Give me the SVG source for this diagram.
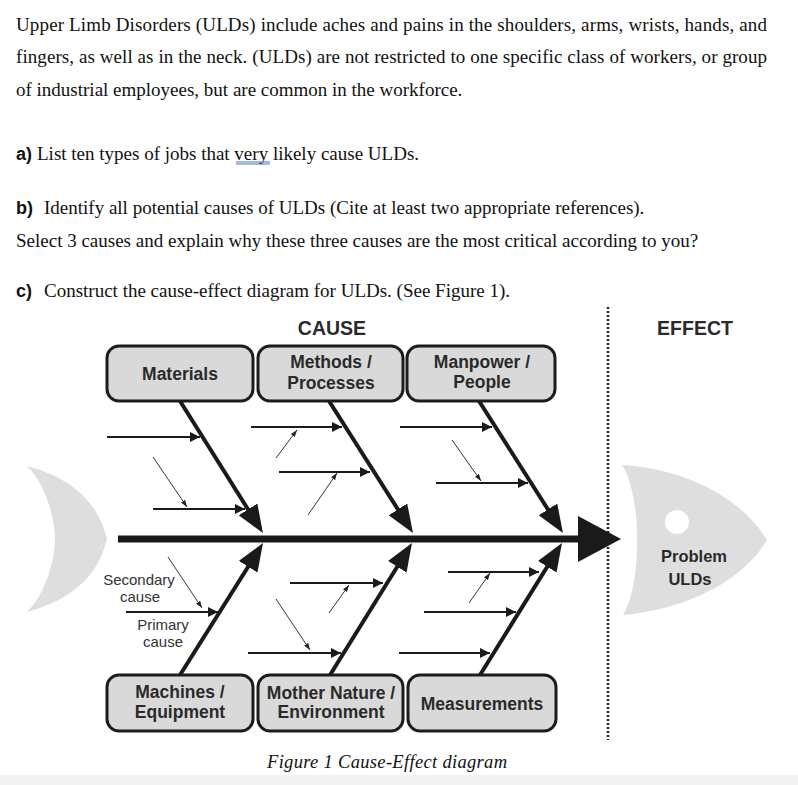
<svg xmlns="http://www.w3.org/2000/svg" width="798" height="785" viewBox="0 0 798 785">
<style>
.para{font-family:"Liberation Serif","Times New Roman",serif;font-size:19px;fill:#111}
.lab{font-family:"Liberation Sans",Arial,sans-serif;font-size:18px;font-weight:bold;fill:#111}
.box{fill:#d9d9d9;stroke:#1c1c1c;stroke-width:3}
.bt{font-family:"Liberation Sans",Arial,sans-serif;font-size:17.5px;font-weight:bold;fill:#2a2a2a;text-anchor:middle}
.hd{font-family:"Liberation Sans",Arial,sans-serif;font-size:19.5px;font-weight:bold;fill:#2a2a2a;text-anchor:middle}
.sm{font-family:"Liberation Sans",Arial,sans-serif;font-size:15px;fill:#333;text-anchor:middle}
.bone{stroke:#1a1a1a;stroke-width:4;fill:none;marker-end:url(#ba)}
.pri{stroke:#1a1a1a;stroke-width:2;fill:none;marker-end:url(#pa)}
.sec{stroke:#333;stroke-width:1;fill:none;marker-end:url(#sa)}
.fish{fill:#dedede}
</style>
<defs>
<marker id="ba" markerUnits="userSpaceOnUse" markerWidth="28" markerHeight="22" refX="18" refY="11" orient="auto"><path d="M0,0 L28,11 L0,22 z" fill="#1a1a1a"/></marker>
<marker id="pa" markerUnits="userSpaceOnUse" markerWidth="10" markerHeight="10" refX="10" refY="5" orient="auto"><path d="M0,0 L10,5 L0,10 z" fill="#1a1a1a"/></marker>
<marker id="sa" markerUnits="userSpaceOnUse" markerWidth="7" markerHeight="5" refX="7" refY="2.5" orient="auto"><path d="M0,0 L7,2.5 L0,5 z" fill="#222"/></marker>
</defs>
<rect width="798" height="785" fill="#fff"/>
<rect x="0" y="775" width="798" height="10" fill="#f3f3f3"/>

<g id="intro">
<text class="para" x="16" y="30.5" textLength="751">Upper Limb Disorders (ULDs) include aches and pains in the shoulders, arms, wrists, hands, and</text>
<text class="para" x="16" y="63" textLength="751">fingers, as well as in the neck. (ULDs) are not restricted to one specific class of workers, or group</text>
<text class="para" x="16" y="95.5">of industrial employees, but are common in the workforce.</text>
</g>
<g id="questions">
<text x="16" y="160"><tspan class="lab">a)</tspan><tspan class="para" x="37">List ten types of jobs that very likely cause ULDs.</tspan></text>
<line x1="236" y1="162" x2="270" y2="162" stroke="#4a72c8" stroke-width="1"/>
<line x1="236" y1="164" x2="270" y2="164" stroke="#4a72c8" stroke-width="1"/>
<text x="16" y="214"><tspan class="lab">b)</tspan><tspan class="para" x="44">Identify all potential causes of ULDs (Cite at least two appropriate references).</tspan></text>
<text class="para" x="16" y="247">Select 3 causes and explain why these three causes are the most critical according to you?</text>
<text x="16" y="297"><tspan class="lab">c)</tspan><tspan class="para" x="44">Construct the cause-effect diagram for ULDs. (See Figure 1).</tspan></text>
</g>

<g id="tail"><path class="fish" d="M27,466 C80,480 100,510 107,539 C100,568 80,598 27,612 C45,595 55,560 55,539 C55,518 45,483 27,466 Z"/></g>
<g id="head">
<path class="fish" d="M622,465 C680,468 740,495 767,540 C740,585 680,610 623,615 C642,585 642,495 622,465 Z"/>
<circle cx="677" cy="522" r="12" fill="#fff"/>
<text class="bt" x="694" y="562" style="font-size:16.5px">Problem</text>
<text class="bt" x="690" y="585" style="font-size:16.5px">ULDs</text>
</g>

<text class="hd" x="332" y="335">CAUSE</text>
<text class="hd" x="695" y="335">EFFECT</text>
<line id="divider" x1="608" y1="307" x2="608" y2="740" stroke="#222" stroke-width="2.5" stroke-dasharray="2 2"/>

<g id="connectors">
<line x1="118" y1="539" x2="582" y2="539" stroke="#1a1a1a" stroke-width="7"/>
<polygon points="578,516 621,539 578,562" fill="#1a1a1a"/>
<line class="bone" x1="180" y1="401" x2="257.6" y2="524.6"/>
<line class="bone" x1="329" y1="401" x2="407.6" y2="524.6"/>
<line class="bone" x1="479" y1="401" x2="557.6" y2="524.6"/>
<line class="bone" x1="180" y1="675" x2="257.7" y2="551.5"/>
<line class="bone" x1="330" y1="675" x2="406.7" y2="551.5"/>
<line class="bone" x1="480" y1="675" x2="556.7" y2="551.5"/>
<line class="pri" x1="107" y1="437" x2="200" y2="437"/>
<line class="pri" x1="153" y1="509" x2="245" y2="509"/>
<line class="pri" x1="251" y1="427" x2="342" y2="427"/>
<line class="pri" x1="279" y1="472" x2="370" y2="472"/>
<line class="pri" x1="400" y1="427" x2="492" y2="427"/>
<line class="pri" x1="436" y1="483" x2="528" y2="483"/>
<line class="pri" x1="126" y1="612" x2="218" y2="612"/>
<line class="pri" x1="290" y1="583" x2="383" y2="583"/>
<line class="pri" x1="248" y1="653" x2="341" y2="653"/>
<line class="pri" x1="448" y1="572" x2="539" y2="572"/>
<line class="pri" x1="424" y1="612" x2="516" y2="612"/>
<line class="pri" x1="399" y1="653" x2="490" y2="653"/>
<line class="sec" x1="153" y1="457" x2="187" y2="507"/>
<line class="sec" x1="276" y1="458" x2="297" y2="430"/>
<line class="sec" x1="308" y1="515" x2="337" y2="473"/>
<line class="sec" x1="452" y1="440" x2="481" y2="481"/>
<line class="sec" x1="168" y1="557" x2="202" y2="608"/>
<line class="sec" x1="329" y1="613" x2="349" y2="585"/>
<line class="sec" x1="276" y1="599" x2="310" y2="650"/>
<line class="sec" x1="469" y1="603" x2="490" y2="573"/>
</g>

<g id="legend">
<text class="sm" x="139" y="585">Secondary</text>
<text class="sm" x="140" y="602">cause</text>
<text class="sm" x="163" y="630">Primary</text>
<text class="sm" x="163" y="647">cause</text>
</g>

<g id="materials"><rect class="box" x="107" y="346" width="146" height="55" rx="12"/><text class="bt" x="180" y="380">Materials</text></g>
<g id="methods"><rect class="box" x="258" y="346" width="145" height="55" rx="12"/><text class="bt" x="331" y="368">Methods /</text><text class="bt" x="331" y="389">Processes</text></g>
<g id="manpower"><rect class="box" x="407" y="346" width="148" height="55" rx="12"/><text class="bt" x="482" y="368">Manpower /</text><text class="bt" x="482" y="388">People</text></g>
<g id="machines"><rect class="box" x="107" y="675" width="146" height="56" rx="12"/><text class="bt" x="180" y="698">Machines /</text><text class="bt" x="180" y="718">Equipment</text></g>
<g id="nature"><rect class="box" x="258" y="675" width="145" height="56" rx="12"/><text class="bt" x="331" y="699">Mother Nature /</text><text class="bt" x="331" y="718">Environment</text></g>
<g id="measurements"><rect class="box" x="408" y="675" width="148" height="56" rx="12"/><text class="bt" x="482" y="710">Measurements</text></g>

<text id="caption" x="267" y="768" textLength="240" style="font-family:'Liberation Serif','Times New Roman',serif;font-size:18.5px;font-style:italic;fill:#111">Figure 1 Cause-Effect diagram</text>
</svg>
